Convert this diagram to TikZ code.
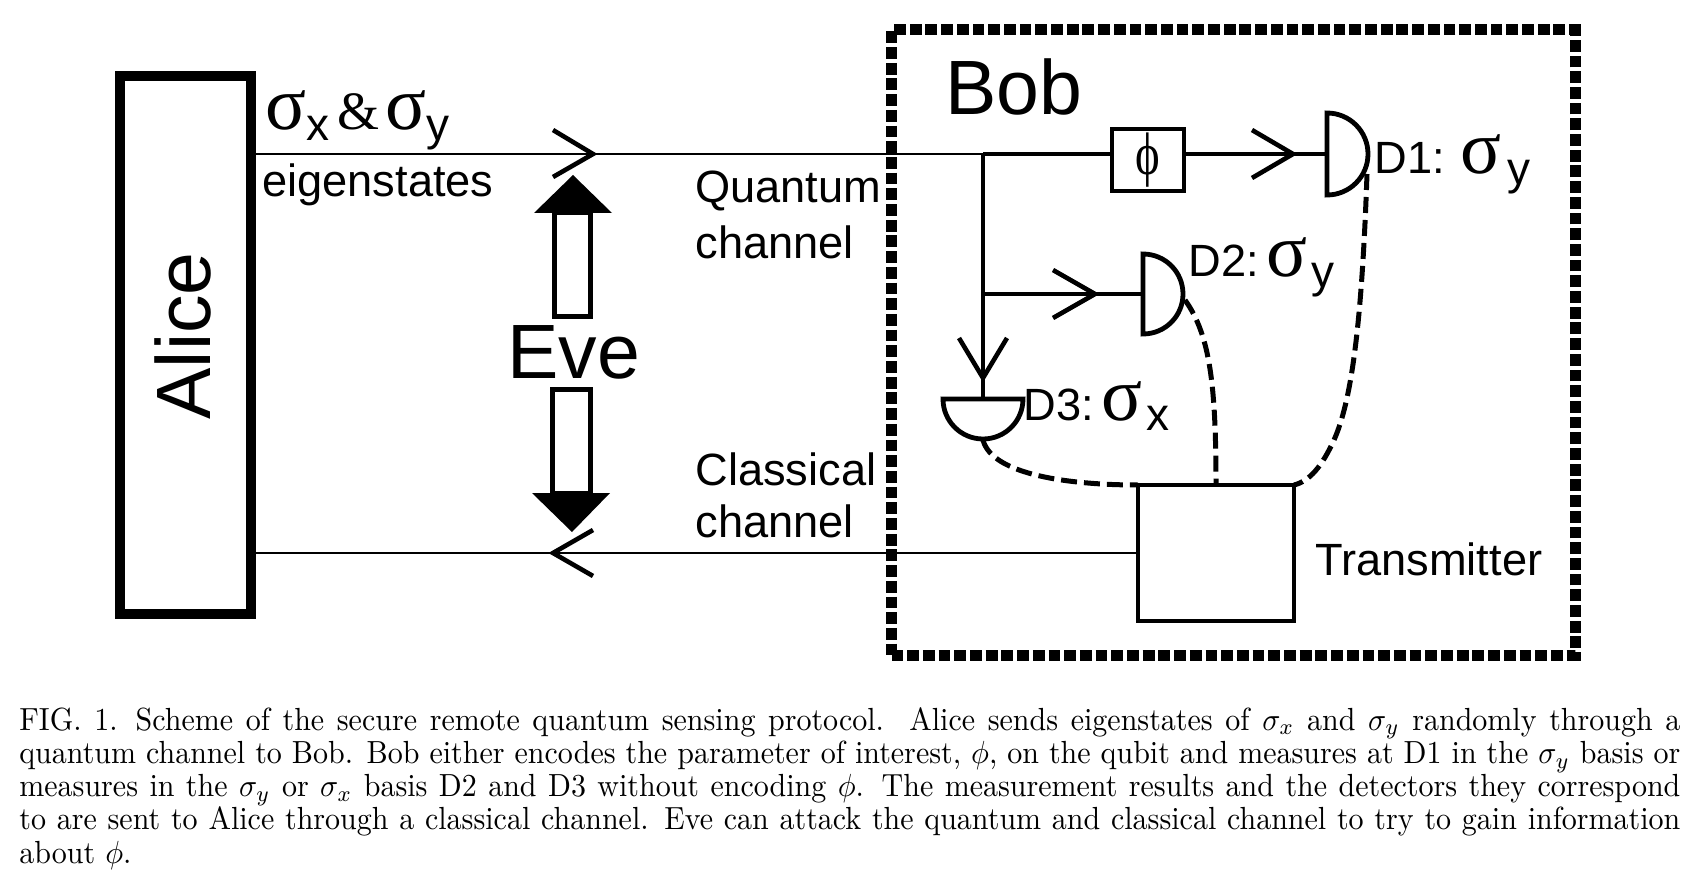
\documentclass[tikz,border=0pt]{standalone}
\usepackage{graphicx}
\usepackage{fontspec}
\newfontfamily\arial{Liberation Sans}
\newfontfamily\tnr{Liberation Serif}
\usetikzlibrary{calc}
\newcommand{\sgm}[2]{{\tnr\fontsize{38pt}{38pt}\selectfont σ}\hspace{#2}\raisebox{-5.5pt}{\arial\fontsize{23pt}{23pt}\selectfont #1}}
\newcommand{\capline}[1]{\scalebox{1.5}[1.6]{\fontsize{10pt}{12pt}\selectfont\makebox[553.67pt][s]{#1}}}
\tikzset{
  lab/.style={font=\arial\fontsize{22.6pt}{22.6pt}\selectfont, inner sep=0pt, anchor=base west},
  big/.style={font=\arial\fontsize{38.5pt}{38.5pt}\selectfont, inner sep=0pt},
  qline/.style={line width=1.4pt},
  bline/.style={line width=1.6pt},
  chev/.style={line width=2.3pt, line cap=butt, line join=miter},
  det/.style={line width=2.4pt, line join=miter},
  sig/.style={line width=2.5pt, dash pattern=on 8pt off 3.5pt},
  bobbox/.style={draw, line width=5.5pt, dash pattern=on 5.9pt off 1.95pt, minimum width=341.75pt, minimum height=312.75pt, inner sep=0pt, outer sep=0pt},
  plainbox/.style={draw, inner sep=0pt, outer sep=0pt},
  evebar/.style={line width=2.5pt},
  capt/.style={inner sep=0pt, anchor=base west}
}
\begin{document}
\begin{tikzpicture}[x=0.5pt, y=-0.5pt]
\useasboundingbox (0,0) rectangle (1694,888);

% main boxes
\node[plainbox, line width=5pt, minimum width=65.5pt, minimum height=269pt] (alice) at (185.5,345) {};
\node[big, rotate=90] (alicet) at (183,336) {Alice};
\node[bobbox] (bob) at (1233.25,342.75) {};
\node[big, anchor=base west] (bobt) at (945,115) {Bob};
\node[plainbox, line width=2pt, minimum width=78pt, minimum height=68pt] (tx) at (1216,553) {};
\node[lab] (txt) at (1315,575) {Transmitter};
\node[plainbox, line width=2.2pt, minimum width=36pt, minimum height=31pt, font=\tnr\fontsize{30pt}{30pt}\selectfont] (phi) at (1148,160) {\scalebox{0.78}[1]{ϕ}};

% key points
\coordinate (junc) at (983,154);
\coordinate (d1) at (1327,154);
\coordinate (d2) at (1143,294);
\coordinate (d3) at (983,399);
\coordinate (qchev) at (593,154);
\coordinate (cchev) at (553,553);
\coordinate (d1chev) at (1293,154);
\coordinate (d2chev) at (1095,294);
\coordinate (d3chev) at (983,378);

% channels
\draw[qline] (alice.east |- junc) -- (junc);
\draw[qline] (tx.west) -- (alice.east |- tx.west);
\draw[bline] (junc) -- (phi.west |- junc);
\draw[bline] (phi.east |- junc) -- (d1);
\draw[bline] (junc) -- (d3);
\draw[bline] (junc |- d2) -- (d2);

% chevrons
\draw[chev] ($(qchev)+(-40,-24)$) -- (qchev) -- ($(qchev)+(-40,23)$);
\draw[chev] ($(cchev)+(40,-23)$) -- (cchev) -- ($(cchev)+(40,23)$);
\draw[chev] ($(d1chev)+(-41,-24)$) -- (d1chev) -- ($(d1chev)+(-41,24)$);
\draw[chev] ($(d2chev)+(-42,-24)$) -- (d2chev) -- ($(d2chev)+(-42,24)$);
\draw[chev] ($(d3chev)+(-24,-40)$) -- (d3chev) -- ($(d3chev)+(24,-40)$);

% detectors
\draw[det] ($(d1)+(0,-41)$) arc[start angle=-90, end angle=90, radius=41] -- cycle;
\draw[det] ($(d2)+(0,-40)$) arc[start angle=-90, end angle=90, radius=40] -- cycle;
\draw[det] ($(d3)+(-40,0)$) arc[start angle=180, end angle=0, radius=40] -- cycle;

% detector to transmitter signals
\draw[sig] ($(d3)+(0,41)$) .. controls (992,475) and (1070,485) .. (tx.north west);
\draw[sig] ($(d2)+(42,6)$) .. controls (1210,335) and (1216,385) .. (tx.north);
\draw[sig] ($(d1)+(40,20)$) .. controls (1362,320) and (1352,400) .. (1334,440) .. controls (1322,466) and (1310,481) .. (tx.north east);

% Eve
\fill (573,175) -- (612,213) -- (534,213) -- cycle;
\draw[evebar] (554.5,213) rectangle (590.5,316);
\draw[evebar] (552.5,389.5) rectangle (590.5,493);
\fill (532,493) -- (610,493) -- (572,532) -- cycle;
\node[big, anchor=base west] (eve) at (507,378) {Eve};

% labels
\node[lab] (states) at (265,130) {\sgm{x}{0pt}\hspace{4pt}{\tnr\fontsize{27pt}{27pt}\selectfont\&}\hspace{3pt}\sgm{y}{0pt}};
\node[lab] (eigen) at (262,197) {eigenstates};
\node[lab] (qc1) at (695,203) {Quantum};
\node[lab] (qc2) at (695,258) {channel};
\node[lab] (cc1) at (695,485) {Classical};
\node[lab] (cc2) at (695,537) {channel};
\node[lab] (d1t) at (1374,174) {D1:\hspace{8pt}\sgm{y}{3pt}};
\node[lab] (d2t) at (1188,277) {D2:\hspace{4pt}\sgm{y}{2pt}};
\node[lab] (d3t) at (1023,420) {D3:\hspace{4pt}\sgm{x}{2pt}};

% caption
\node[capt] (cap1) at (19,730) {\capline{FIG. 1.\hspace{0.6em}Scheme of the secure remote quantum sensing protocol.\ \ Alice sends eigenstates of $\sigma_x$ and $\sigma_y$ randomly through a}};
\node[capt] (cap2) at (19,763.3) {\capline{quantum channel to Bob. Bob either encodes the parameter of interest, $\phi$, on the qubit and measures at D1 in the $\sigma_y$ basis or}};
\node[capt] (cap3) at (19,796.6) {\capline{measures in the $\sigma_y$ or $\sigma_x$ basis D2 and D3 without encoding $\phi$. The measurement results and the detectors they correspond}};
\node[capt] (cap4) at (19,829.9) {\capline{to are sent to Alice through a classical channel. Eve can attack the quantum and classical channel to try to gain information}};
\node[capt] (cap5) at (19,863.2) {\scalebox{1.5}[1.6]{\fontsize{10pt}{12pt}\selectfont about $\phi$.}};
\end{tikzpicture}
\end{document}
